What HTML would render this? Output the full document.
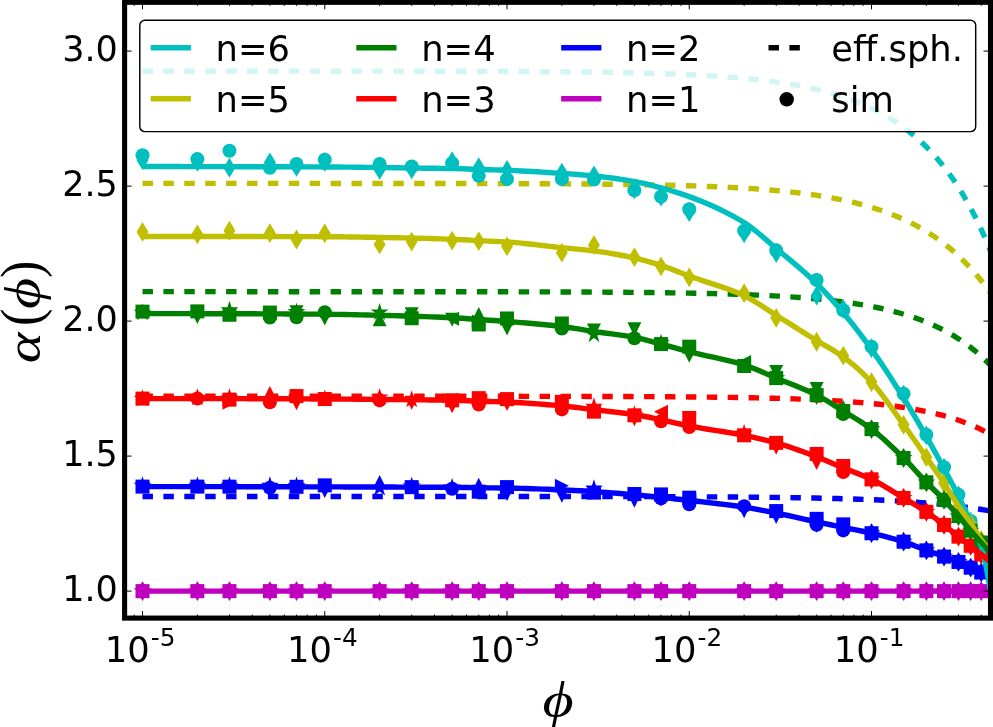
<!DOCTYPE html>
<html><head><meta charset="utf-8"><title>alpha(phi)</title>
<style>html,body{margin:0;padding:0;background:#fff}svg{display:block}</style></head>
<body>
<svg width="993" height="727" viewBox="0 0 993 727" style="display:block">
<rect x="0" y="0" width="993" height="727" fill="#fff"/>
<defs><clipPath id="ax"><rect x="124.6" y="2.3" width="865.9" height="615.8000000000001"/></clipPath></defs>
<g clip-path="url(#ax)">
<polyline points="142.50,496.47 147.80,496.47 153.10,496.47 158.40,496.47 163.70,496.47 169.00,496.47 174.30,496.47 179.60,496.47 184.90,496.47 190.20,496.47 195.50,496.47 200.80,496.47 206.10,496.47 211.40,496.47 216.70,496.47 222.00,496.47 227.30,496.47 232.61,496.47 237.91,496.47 243.21,496.47 248.51,496.47 253.81,496.47 259.11,496.47 264.41,496.47 269.71,496.47 275.01,496.47 280.31,496.47 285.61,496.47 290.91,496.47 296.21,496.47 301.51,496.47 306.81,496.47 312.11,496.47 317.41,496.47 322.71,496.47 328.01,496.47 333.31,496.47 338.61,496.47 343.91,496.47 349.21,496.47 354.51,496.47 359.81,496.47 365.11,496.47 370.41,496.47 375.71,496.47 381.01,496.47 386.31,496.47 391.61,496.47 396.91,496.47 402.21,496.47 407.51,496.47 412.82,496.47 418.12,496.48 423.42,496.48 428.72,496.48 434.02,496.48 439.32,496.48 444.62,496.48 449.92,496.48 455.22,496.48 460.52,496.48 465.82,496.48 471.12,496.49 476.42,496.49 481.72,496.49 487.02,496.49 492.32,496.49 497.62,496.49 502.92,496.50 508.22,496.50 513.52,496.50 518.82,496.50 524.12,496.51 529.42,496.51 534.72,496.51 540.02,496.51 545.32,496.52 550.62,496.52 555.92,496.53 561.22,496.53 566.52,496.53 571.82,496.54 577.12,496.54 582.42,496.55 587.73,496.55 593.03,496.56 598.33,496.57 603.63,496.57 608.93,496.58 614.23,496.59 619.53,496.60 624.83,496.61 630.13,496.62 635.43,496.63 640.73,496.64 646.03,496.65 651.33,496.67 656.63,496.68 661.93,496.69 667.23,496.71 672.53,496.73 677.83,496.75 683.13,496.76 688.43,496.79 693.73,496.81 699.03,496.83 704.33,496.86 709.63,496.88 714.93,496.91 720.23,496.94 725.53,496.98 730.83,497.01 736.13,497.05 741.43,497.09 746.73,497.13 752.03,497.18 757.33,497.23 762.64,497.28 767.94,497.34 773.24,497.40 778.54,497.47 783.84,497.54 789.14,497.61 794.44,497.69 799.74,497.77 805.04,497.86 810.34,497.96 815.64,498.06 820.94,498.18 826.24,498.29 831.54,498.42 836.84,498.56 842.14,498.70 847.44,498.86 852.74,499.02 858.04,499.20 863.34,499.39 868.64,499.59 873.94,499.81 879.24,500.04 884.54,500.29 889.84,500.55 895.14,500.83 900.44,501.14 905.74,501.46 911.04,501.80 916.34,502.17 921.64,502.57 926.94,502.99 932.24,503.44 937.54,503.93 942.85,504.45 948.15,505.00 953.45,505.59 958.75,506.22 964.05,506.90 969.35,507.62 974.65,508.39 979.95,509.22 985.25,510.10 990.55,511.05" fill="none" stroke="#0000ff" stroke-width="5.4" stroke-dasharray="10.45 10.45"/>
<polyline points="142.50,396.24 147.80,396.24 153.10,396.24 158.40,396.24 163.70,396.24 169.00,396.24 174.30,396.24 179.60,396.24 184.90,396.24 190.20,396.24 195.50,396.24 200.80,396.24 206.10,396.24 211.40,396.24 216.70,396.24 222.00,396.24 227.30,396.24 232.61,396.24 237.91,396.24 243.21,396.24 248.51,396.24 253.81,396.24 259.11,396.24 264.41,396.24 269.71,396.24 275.01,396.24 280.31,396.24 285.61,396.25 290.91,396.25 296.21,396.25 301.51,396.25 306.81,396.25 312.11,396.25 317.41,396.25 322.71,396.25 328.01,396.25 333.31,396.25 338.61,396.25 343.91,396.25 349.21,396.25 354.51,396.25 359.81,396.25 365.11,396.25 370.41,396.25 375.71,396.25 381.01,396.26 386.31,396.26 391.61,396.26 396.91,396.26 402.21,396.26 407.51,396.26 412.82,396.26 418.12,396.26 423.42,396.27 428.72,396.27 434.02,396.27 439.32,396.27 444.62,396.27 449.92,396.27 455.22,396.28 460.52,396.28 465.82,396.28 471.12,396.29 476.42,396.29 481.72,396.29 487.02,396.29 492.32,396.30 497.62,396.30 502.92,396.31 508.22,396.31 513.52,396.32 518.82,396.32 524.12,396.33 529.42,396.33 534.72,396.34 540.02,396.35 545.32,396.35 550.62,396.36 555.92,396.37 561.22,396.38 566.52,396.39 571.82,396.40 577.12,396.41 582.42,396.42 587.73,396.43 593.03,396.45 598.33,396.46 603.63,396.48 608.93,396.49 614.23,396.51 619.53,396.53 624.83,396.55 630.13,396.57 635.43,396.59 640.73,396.62 646.03,396.64 651.33,396.67 656.63,396.70 661.93,396.73 667.23,396.77 672.53,396.81 677.83,396.84 683.13,396.89 688.43,396.93 693.73,396.98 699.03,397.03 704.33,397.09 709.63,397.14 714.93,397.21 720.23,397.27 725.53,397.35 730.83,397.42 736.13,397.51 741.43,397.60 746.73,397.69 752.03,397.79 757.33,397.90 762.64,398.02 767.94,398.14 773.24,398.27 778.54,398.42 783.84,398.57 789.14,398.74 794.44,398.91 799.74,399.10 805.04,399.30 810.34,399.52 815.64,399.75 820.94,400.00 826.24,400.27 831.54,400.56 836.84,400.86 842.14,401.19 847.44,401.55 852.74,401.93 858.04,402.34 863.34,402.78 868.64,403.26 873.94,403.76 879.24,404.31 884.54,404.90 889.84,405.54 895.14,406.22 900.44,406.96 905.74,407.76 911.04,408.62 916.34,409.54 921.64,410.54 926.94,411.62 932.24,412.79 937.54,414.06 942.85,415.43 948.15,416.91 953.45,418.52 958.75,420.27 964.05,422.16 969.35,424.22 974.65,426.47 979.95,428.91 985.25,431.57 990.55,434.46" fill="none" stroke="#ff0000" stroke-width="5.4" stroke-dasharray="10.45 10.45"/>
<polyline points="142.50,291.67 147.80,291.67 153.10,291.67 158.40,291.67 163.70,291.67 169.00,291.67 174.30,291.67 179.60,291.67 184.90,291.67 190.20,291.67 195.50,291.67 200.80,291.67 206.10,291.67 211.40,291.67 216.70,291.67 222.00,291.67 227.30,291.67 232.61,291.67 237.91,291.67 243.21,291.68 248.51,291.68 253.81,291.68 259.11,291.68 264.41,291.68 269.71,291.68 275.01,291.68 280.31,291.68 285.61,291.68 290.91,291.68 296.21,291.68 301.51,291.68 306.81,291.68 312.11,291.68 317.41,291.68 322.71,291.68 328.01,291.68 333.31,291.69 338.61,291.69 343.91,291.69 349.21,291.69 354.51,291.69 359.81,291.69 365.11,291.69 370.41,291.70 375.71,291.70 381.01,291.70 386.31,291.70 391.61,291.70 396.91,291.71 402.21,291.71 407.51,291.71 412.82,291.71 418.12,291.72 423.42,291.72 428.72,291.72 434.02,291.73 439.32,291.73 444.62,291.74 449.92,291.74 455.22,291.74 460.52,291.75 465.82,291.76 471.12,291.76 476.42,291.77 481.72,291.77 487.02,291.78 492.32,291.79 497.62,291.80 502.92,291.81 508.22,291.82 513.52,291.83 518.82,291.84 524.12,291.85 529.42,291.86 534.72,291.87 540.02,291.89 545.32,291.90 550.62,291.92 555.92,291.94 561.22,291.95 566.52,291.97 571.82,291.99 577.12,292.02 582.42,292.04 587.73,292.07 593.03,292.09 598.33,292.12 603.63,292.16 608.93,292.19 614.23,292.23 619.53,292.26 624.83,292.30 630.13,292.35 635.43,292.40 640.73,292.45 646.03,292.50 651.33,292.56 656.63,292.62 661.93,292.69 667.23,292.76 672.53,292.83 677.83,292.91 683.13,293.00 688.43,293.09 693.73,293.19 699.03,293.30 704.33,293.41 709.63,293.53 714.93,293.66 720.23,293.80 725.53,293.94 730.83,294.10 736.13,294.27 741.43,294.45 746.73,294.65 752.03,294.86 757.33,295.08 762.64,295.32 767.94,295.57 773.24,295.84 778.54,296.14 783.84,296.45 789.14,296.78 794.44,297.14 799.74,297.52 805.04,297.94 810.34,298.38 815.64,298.85 820.94,299.35 826.24,299.89 831.54,300.47 836.84,301.10 842.14,301.76 847.44,302.48 852.74,303.25 858.04,304.07 863.34,304.95 868.64,305.90 873.94,306.92 879.24,308.01 884.54,309.18 889.84,310.44 895.14,311.80 900.44,313.25 905.74,314.82 911.04,316.50 916.34,318.31 921.64,320.26 926.94,322.36 932.24,324.63 937.54,327.07 942.85,329.70 948.15,332.54 953.45,335.61 958.75,338.92 964.05,342.50 969.35,346.37 974.65,350.56 979.95,355.10 985.25,360.02 990.55,365.36" fill="none" stroke="#008000" stroke-width="5.4" stroke-dasharray="10.45 10.45"/>
<polyline points="142.50,183.40 147.80,183.40 153.10,183.40 158.40,183.40 163.70,183.40 169.00,183.40 174.30,183.40 179.60,183.40 184.90,183.40 190.20,183.40 195.50,183.40 200.80,183.40 206.10,183.41 211.40,183.41 216.70,183.41 222.00,183.41 227.30,183.41 232.61,183.41 237.91,183.41 243.21,183.41 248.51,183.41 253.81,183.41 259.11,183.41 264.41,183.41 269.71,183.41 275.01,183.41 280.31,183.41 285.61,183.41 290.91,183.42 296.21,183.42 301.51,183.42 306.81,183.42 312.11,183.42 317.41,183.42 322.71,183.42 328.01,183.42 333.31,183.43 338.61,183.43 343.91,183.43 349.21,183.43 354.51,183.43 359.81,183.44 365.11,183.44 370.41,183.44 375.71,183.45 381.01,183.45 386.31,183.45 391.61,183.46 396.91,183.46 402.21,183.46 407.51,183.47 412.82,183.47 418.12,183.48 423.42,183.48 428.72,183.49 434.02,183.49 439.32,183.50 444.62,183.51 449.92,183.52 455.22,183.52 460.52,183.53 465.82,183.54 471.12,183.55 476.42,183.56 481.72,183.57 487.02,183.58 492.32,183.60 497.62,183.61 502.92,183.63 508.22,183.64 513.52,183.66 518.82,183.68 524.12,183.70 529.42,183.72 534.72,183.74 540.02,183.76 545.32,183.79 550.62,183.81 555.92,183.84 561.22,183.87 566.52,183.90 571.82,183.94 577.12,183.98 582.42,184.02 587.73,184.06 593.03,184.10 598.33,184.15 603.63,184.21 608.93,184.26 614.23,184.32 619.53,184.38 624.83,184.45 630.13,184.53 635.43,184.60 640.73,184.69 646.03,184.78 651.33,184.87 656.63,184.97 661.93,185.08 667.23,185.20 672.53,185.32 677.83,185.46 683.13,185.60 688.43,185.75 693.73,185.92 699.03,186.09 704.33,186.28 709.63,186.48 714.93,186.69 720.23,186.92 725.53,187.16 730.83,187.42 736.13,187.70 741.43,188.00 746.73,188.32 752.03,188.66 757.33,189.02 762.64,189.41 767.94,189.83 773.24,190.28 778.54,190.75 783.84,191.26 789.14,191.81 794.44,192.39 799.74,193.02 805.04,193.69 810.34,194.40 815.64,195.16 820.94,195.98 826.24,196.86 831.54,197.79 836.84,198.79 842.14,199.86 847.44,201.01 852.74,202.23 858.04,203.54 863.34,204.94 868.64,206.44 873.94,208.05 879.24,209.77 884.54,211.60 889.84,213.57 895.14,215.68 900.44,217.93 905.74,220.34 911.04,222.92 916.34,225.69 921.64,228.65 926.94,231.82 932.24,235.21 937.54,238.85 942.85,242.74 948.15,246.91 953.45,251.38 958.75,256.17 964.05,261.30 969.35,266.80 974.65,272.69 979.95,279.01 985.25,285.79 990.55,293.05" fill="none" stroke="#bfbf00" stroke-width="5.4" stroke-dasharray="10.45 10.45"/>
<polyline points="142.50,71.08 147.80,71.08 153.10,71.08 158.40,71.08 163.70,71.08 169.00,71.09 174.30,71.09 179.60,71.09 184.90,71.09 190.20,71.09 195.50,71.09 200.80,71.09 206.10,71.09 211.40,71.09 216.70,71.09 222.00,71.09 227.30,71.09 232.61,71.09 237.91,71.09 243.21,71.09 248.51,71.09 253.81,71.09 259.11,71.10 264.41,71.10 269.71,71.10 275.01,71.10 280.31,71.10 285.61,71.10 290.91,71.10 296.21,71.11 301.51,71.11 306.81,71.11 312.11,71.11 317.41,71.11 322.71,71.12 328.01,71.12 333.31,71.12 338.61,71.12 343.91,71.13 349.21,71.13 354.51,71.13 359.81,71.14 365.11,71.14 370.41,71.14 375.71,71.15 381.01,71.15 386.31,71.16 391.61,71.16 396.91,71.17 402.21,71.18 407.51,71.18 412.82,71.19 418.12,71.20 423.42,71.21 428.72,71.21 434.02,71.22 439.32,71.23 444.62,71.24 449.92,71.26 455.22,71.27 460.52,71.28 465.82,71.30 471.12,71.31 476.42,71.33 481.72,71.34 487.02,71.36 492.32,71.38 497.62,71.40 502.92,71.42 508.22,71.45 513.52,71.47 518.82,71.50 524.12,71.53 529.42,71.56 534.72,71.59 540.02,71.63 545.32,71.67 550.62,71.71 555.92,71.75 561.22,71.80 566.52,71.85 571.82,71.90 577.12,71.96 582.42,72.02 587.73,72.09 593.03,72.16 598.33,72.23 603.63,72.31 608.93,72.40 614.23,72.49 619.53,72.58 624.83,72.69 630.13,72.80 635.43,72.92 640.73,73.05 646.03,73.18 651.33,73.33 656.63,73.48 661.93,73.65 667.23,73.83 672.53,74.02 677.83,74.23 683.13,74.44 688.43,74.68 693.73,74.93 699.03,75.19 704.33,75.48 709.63,75.78 714.93,76.11 720.23,76.46 725.53,76.84 730.83,77.24 736.13,77.66 741.43,78.12 746.73,78.61 752.03,79.14 757.33,79.70 762.64,80.30 767.94,80.94 773.24,81.63 778.54,82.36 783.84,83.15 789.14,83.99 794.44,84.89 799.74,85.86 805.04,86.89 810.34,88.00 815.64,89.18 820.94,90.45 826.24,91.81 831.54,93.27 836.84,94.83 842.14,96.50 847.44,98.28 852.74,100.20 858.04,102.26 863.34,104.46 868.64,106.82 873.94,109.35 879.24,112.07 884.54,114.98 889.84,118.11 895.14,121.46 900.44,125.06 905.74,128.93 911.04,133.08 916.34,137.54 921.64,142.33 926.94,147.48 932.24,153.02 937.54,158.98 942.85,165.39 948.15,172.29 953.45,179.72 958.75,187.73 964.05,196.36 969.35,205.67 974.65,215.71 979.95,226.56 985.25,238.27 990.55,250.93" fill="none" stroke="#00bfbf" stroke-width="5.4" stroke-dasharray="10.45 10.45"/>
<rect x="135.50" y="584.10" width="14.00" height="14.00" fill="#bf00bf"/><polygon points="142.50,581.20 148.44,591.10 142.50,601.00 136.56,591.10" fill="#bf00bf"/><polygon points="142.50,581.70 144.61,588.20 151.44,588.20 145.91,592.21 148.03,598.70 142.50,594.69 136.97,598.70 139.09,592.21 133.56,588.20 140.39,588.20" fill="#bf00bf"/><rect x="190.36" y="584.10" width="14.00" height="14.00" fill="#bf00bf"/><polygon points="197.36,581.20 203.30,591.10 197.36,601.00 191.42,591.10" fill="#bf00bf"/><polygon points="197.36,581.70 199.47,588.20 206.30,588.20 200.78,592.21 202.89,598.70 197.36,594.69 191.84,598.70 193.95,592.21 188.42,588.20 195.25,588.20" fill="#bf00bf"/><rect x="222.46" y="584.10" width="14.00" height="14.00" fill="#bf00bf"/><polygon points="229.46,581.20 235.39,591.10 229.46,601.00 223.52,591.10" fill="#bf00bf"/><polygon points="229.46,581.70 231.57,588.20 238.40,588.20 232.87,592.21 234.98,598.70 229.46,594.69 223.93,598.70 226.04,592.21 220.52,588.20 227.34,588.20" fill="#bf00bf"/><rect x="262.89" y="584.10" width="14.00" height="14.00" fill="#bf00bf"/><polygon points="269.89,581.20 275.83,591.10 269.89,601.00 263.95,591.10" fill="#bf00bf"/><polygon points="269.89,581.70 272.00,588.20 278.83,588.20 273.30,592.21 275.41,598.70 269.89,594.69 264.36,598.70 266.47,592.21 260.95,588.20 267.78,588.20" fill="#bf00bf"/><rect x="289.52" y="584.10" width="14.00" height="14.00" fill="#bf00bf"/><polygon points="296.52,581.20 302.46,591.10 296.52,601.00 290.58,591.10" fill="#bf00bf"/><polygon points="296.52,581.70 298.63,588.20 305.46,588.20 299.93,592.21 302.04,598.70 296.52,594.69 290.99,598.70 293.10,592.21 287.58,588.20 294.41,588.20" fill="#bf00bf"/><rect x="317.75" y="584.10" width="14.00" height="14.00" fill="#bf00bf"/><polygon points="324.75,581.20 330.69,591.10 324.75,601.00 318.81,591.10" fill="#bf00bf"/><polygon points="324.75,581.70 326.86,588.20 333.69,588.20 328.16,592.21 330.28,598.70 324.75,594.69 319.22,598.70 321.34,592.21 315.81,588.20 322.64,588.20" fill="#bf00bf"/><rect x="372.61" y="584.10" width="14.00" height="14.00" fill="#bf00bf"/><polygon points="379.61,581.20 385.55,591.10 379.61,601.00 373.67,591.10" fill="#bf00bf"/><polygon points="379.61,581.70 381.72,588.20 388.55,588.20 383.03,592.21 385.14,598.70 379.61,594.69 374.09,598.70 376.20,592.21 370.67,588.20 377.50,588.20" fill="#bf00bf"/><rect x="404.71" y="584.10" width="14.00" height="14.00" fill="#bf00bf"/><polygon points="411.71,581.20 417.64,591.10 411.71,601.00 405.77,591.10" fill="#bf00bf"/><polygon points="411.71,581.70 413.82,588.20 420.65,588.20 415.12,592.21 417.23,598.70 411.71,594.69 406.18,598.70 408.29,592.21 402.77,588.20 409.59,588.20" fill="#bf00bf"/><rect x="445.14" y="584.10" width="14.00" height="14.00" fill="#bf00bf"/><polygon points="452.14,581.20 458.08,591.10 452.14,601.00 446.20,591.10" fill="#bf00bf"/><polygon points="452.14,581.70 454.25,588.20 461.08,588.20 455.55,592.21 457.66,598.70 452.14,594.69 446.61,598.70 448.72,592.21 443.20,588.20 450.03,588.20" fill="#bf00bf"/><rect x="471.77" y="584.10" width="14.00" height="14.00" fill="#bf00bf"/><polygon points="478.77,581.20 484.71,591.10 478.77,601.00 472.83,591.10" fill="#bf00bf"/><polygon points="478.77,581.70 480.88,588.20 487.71,588.20 482.18,592.21 484.29,598.70 478.77,594.69 473.24,598.70 475.35,592.21 469.83,588.20 476.66,588.20" fill="#bf00bf"/><rect x="500.00" y="584.10" width="14.00" height="14.00" fill="#bf00bf"/><polygon points="507.00,581.20 512.94,591.10 507.00,601.00 501.06,591.10" fill="#bf00bf"/><polygon points="507.00,581.70 509.11,588.20 515.94,588.20 510.41,592.21 512.53,598.70 507.00,594.69 501.47,598.70 503.59,592.21 498.06,588.20 504.89,588.20" fill="#bf00bf"/><rect x="554.86" y="584.10" width="14.00" height="14.00" fill="#bf00bf"/><polygon points="561.86,581.20 567.80,591.10 561.86,601.00 555.92,591.10" fill="#bf00bf"/><polygon points="561.86,581.70 563.97,588.20 570.80,588.20 565.28,592.21 567.39,598.70 561.86,594.69 556.34,598.70 558.45,592.21 552.92,588.20 559.75,588.20" fill="#bf00bf"/><rect x="586.96" y="584.10" width="14.00" height="14.00" fill="#bf00bf"/><polygon points="593.96,581.20 599.89,591.10 593.96,601.00 588.02,591.10" fill="#bf00bf"/><polygon points="593.96,581.70 596.07,588.20 602.90,588.20 597.37,592.21 599.48,598.70 593.96,594.69 588.43,598.70 590.54,592.21 585.02,588.20 591.84,588.20" fill="#bf00bf"/><rect x="627.39" y="584.10" width="14.00" height="14.00" fill="#bf00bf"/><polygon points="634.39,581.20 640.33,591.10 634.39,601.00 628.45,591.10" fill="#bf00bf"/><polygon points="634.39,581.70 636.50,588.20 643.33,588.20 637.80,592.21 639.91,598.70 634.39,594.69 628.86,598.70 630.97,592.21 625.45,588.20 632.28,588.20" fill="#bf00bf"/><rect x="654.02" y="584.10" width="14.00" height="14.00" fill="#bf00bf"/><polygon points="661.02,581.20 666.96,591.10 661.02,601.00 655.08,591.10" fill="#bf00bf"/><polygon points="661.02,581.70 663.13,588.20 669.96,588.20 664.43,592.21 666.54,598.70 661.02,594.69 655.49,598.70 657.60,592.21 652.08,588.20 658.91,588.20" fill="#bf00bf"/><rect x="682.25" y="584.10" width="14.00" height="14.00" fill="#bf00bf"/><polygon points="689.25,581.20 695.19,591.10 689.25,601.00 683.31,591.10" fill="#bf00bf"/><polygon points="689.25,581.70 691.36,588.20 698.19,588.20 692.66,592.21 694.78,598.70 689.25,594.69 683.72,598.70 685.84,592.21 680.31,588.20 687.14,588.20" fill="#bf00bf"/><rect x="737.11" y="584.10" width="14.00" height="14.00" fill="#bf00bf"/><polygon points="744.11,581.20 750.05,591.10 744.11,601.00 738.17,591.10" fill="#bf00bf"/><polygon points="744.11,581.70 746.22,588.20 753.05,588.20 747.53,592.21 749.64,598.70 744.11,594.69 738.59,598.70 740.70,592.21 735.17,588.20 742.00,588.20" fill="#bf00bf"/><rect x="769.21" y="584.10" width="14.00" height="14.00" fill="#bf00bf"/><polygon points="776.21,581.20 782.14,591.10 776.21,601.00 770.27,591.10" fill="#bf00bf"/><polygon points="776.21,581.70 778.32,588.20 785.15,588.20 779.62,592.21 781.73,598.70 776.21,594.69 770.68,598.70 772.79,592.21 767.27,588.20 774.09,588.20" fill="#bf00bf"/><rect x="809.64" y="584.10" width="14.00" height="14.00" fill="#bf00bf"/><polygon points="816.64,581.20 822.58,591.10 816.64,601.00 810.70,591.10" fill="#bf00bf"/><polygon points="816.64,581.70 818.75,588.20 825.58,588.20 820.05,592.21 822.16,598.70 816.64,594.69 811.11,598.70 813.22,592.21 807.70,588.20 814.53,588.20" fill="#bf00bf"/><rect x="836.27" y="584.10" width="14.00" height="14.00" fill="#bf00bf"/><polygon points="843.27,581.20 849.21,591.10 843.27,601.00 837.33,591.10" fill="#bf00bf"/><polygon points="843.27,581.70 845.38,588.20 852.21,588.20 846.68,592.21 848.79,598.70 843.27,594.69 837.74,598.70 839.85,592.21 834.33,588.20 841.16,588.20" fill="#bf00bf"/><rect x="864.50" y="584.10" width="14.00" height="14.00" fill="#bf00bf"/><polygon points="871.50,581.20 877.44,591.10 871.50,601.00 865.56,591.10" fill="#bf00bf"/><polygon points="871.50,581.70 873.61,588.20 880.44,588.20 874.91,592.21 877.03,598.70 871.50,594.69 865.97,598.70 868.09,592.21 862.56,588.20 869.39,588.20" fill="#bf00bf"/><rect x="896.59" y="584.10" width="14.00" height="14.00" fill="#bf00bf"/><polygon points="903.59,581.20 909.53,591.10 903.59,601.00 897.65,591.10" fill="#bf00bf"/><polygon points="903.59,581.70 905.70,588.20 912.53,588.20 907.01,592.21 909.12,598.70 903.59,594.69 898.07,598.70 900.18,592.21 894.65,588.20 901.48,588.20" fill="#bf00bf"/><rect x="919.36" y="584.10" width="14.00" height="14.00" fill="#bf00bf"/><polygon points="926.36,581.20 932.30,591.10 926.36,601.00 920.42,591.10" fill="#bf00bf"/><polygon points="926.36,581.70 928.47,588.20 935.30,588.20 929.78,592.21 931.89,598.70 926.36,594.69 920.84,598.70 922.95,592.21 917.42,588.20 924.25,588.20" fill="#bf00bf"/><rect x="937.02" y="584.10" width="14.00" height="14.00" fill="#bf00bf"/><polygon points="944.02,581.20 949.96,591.10 944.02,601.00 938.08,591.10" fill="#bf00bf"/><polygon points="944.02,581.70 946.13,588.20 952.96,588.20 947.44,592.21 949.55,598.70 944.02,594.69 938.50,598.70 940.61,592.21 935.08,588.20 941.91,588.20" fill="#bf00bf"/><rect x="951.46" y="584.10" width="14.00" height="14.00" fill="#bf00bf"/><polygon points="958.46,581.20 964.39,591.10 958.46,601.00 952.52,591.10" fill="#bf00bf"/><polygon points="958.46,581.70 960.57,588.20 967.40,588.20 961.87,592.21 963.98,598.70 958.46,594.69 952.93,598.70 955.04,592.21 949.52,588.20 956.34,588.20" fill="#bf00bf"/><rect x="963.66" y="584.10" width="14.00" height="14.00" fill="#bf00bf"/><polygon points="970.66,581.20 976.60,591.10 970.66,601.00 964.72,591.10" fill="#bf00bf"/><polygon points="970.66,581.70 972.77,588.20 979.60,588.20 974.07,592.21 976.18,598.70 970.66,594.69 965.13,598.70 967.24,592.21 961.72,588.20 968.55,588.20" fill="#bf00bf"/><rect x="974.23" y="584.10" width="14.00" height="14.00" fill="#bf00bf"/><polygon points="981.23,581.20 987.17,591.10 981.23,601.00 975.29,591.10" fill="#bf00bf"/><polygon points="981.23,581.70 983.34,588.20 990.17,588.20 984.64,592.21 986.75,598.70 981.23,594.69 975.70,598.70 977.81,592.21 972.29,588.20 979.12,588.20" fill="#bf00bf"/>
<rect x="135.50" y="479.61" width="14.00" height="14.00" fill="#0000ff"/><polygon points="142.50,476.21 144.61,482.71 151.44,482.71 145.91,486.72 148.03,493.21 142.50,489.20 136.97,493.21 139.09,486.72 133.56,482.71 140.39,482.71" fill="#0000ff"/><polygon points="197.36,476.21 199.47,482.71 206.30,482.71 200.78,486.72 202.89,493.21 197.36,489.20 191.84,493.21 193.95,486.72 188.42,482.71 195.25,482.71" fill="#0000ff"/><rect x="190.36" y="479.61" width="14.00" height="14.00" fill="#0000ff"/><rect x="222.46" y="479.66" width="14.00" height="14.00" fill="#0000ff"/><polygon points="229.46,476.26 231.57,482.76 238.40,482.76 232.87,486.77 234.98,493.27 229.46,489.25 223.93,493.27 226.04,486.77 220.52,482.76 227.34,482.76" fill="#0000ff"/><polygon points="269.89,476.32 272.00,482.81 278.83,482.81 273.30,486.83 275.41,493.32 269.89,489.31 264.36,493.32 266.47,486.83 260.95,482.81 267.78,482.81" fill="#0000ff"/><circle cx="269.89" cy="487.72" r="7.00" fill="#0000ff"/><polygon points="296.52,476.40 298.63,482.89 305.46,482.89 299.93,486.91 302.04,493.40 296.52,489.39 290.99,493.40 293.10,486.91 287.58,482.89 294.41,482.89" fill="#0000ff"/><rect x="289.52" y="479.80" width="14.00" height="14.00" fill="#0000ff"/><rect x="317.75" y="478.38" width="14.00" height="14.00" fill="#0000ff"/><polygon points="317.75,483.88 331.75,483.88 324.75,497.88" fill="#0000ff"/><polygon points="372.61,489.02 386.61,489.02 379.61,475.02" fill="#0000ff"/><polygon points="379.61,478.62 381.72,485.11 388.55,485.11 383.03,489.12 385.14,495.62 379.61,491.61 374.09,495.62 376.20,489.12 370.67,485.11 377.50,485.11" fill="#0000ff"/><rect x="404.71" y="480.15" width="14.00" height="14.00" fill="#0000ff"/><polygon points="411.71,476.75 413.82,483.25 420.65,483.25 415.12,487.26 417.23,493.75 411.71,489.74 406.18,493.75 408.29,487.26 402.77,483.25 409.59,483.25" fill="#0000ff"/><polygon points="452.14,477.91 454.25,484.41 461.08,484.41 455.55,488.42 457.66,494.92 452.14,490.90 446.61,494.92 448.72,488.42 443.20,484.41 450.03,484.41" fill="#0000ff"/><circle cx="452.14" cy="488.81" r="7.00" fill="#0000ff"/><polygon points="471.77,491.69 485.77,491.69 478.77,477.69" fill="#0000ff"/><rect x="471.77" y="484.69" width="14.00" height="14.00" fill="#0000ff"/><rect x="500.00" y="480.10" width="14.00" height="14.00" fill="#0000ff"/><polygon points="500.00,487.10 514.00,487.10 507.00,501.10" fill="#0000ff"/><polygon points="554.86,478.85 554.86,492.85 568.86,485.85" fill="#0000ff"/><polygon points="554.86,488.85 568.86,488.85 561.86,502.85" fill="#0000ff"/><polygon points="593.96,479.21 596.07,485.70 602.90,485.70 597.37,489.71 599.48,496.21 593.96,492.20 588.43,496.21 590.54,489.71 585.02,485.70 591.84,485.70" fill="#0000ff"/><rect x="586.96" y="485.61" width="14.00" height="14.00" fill="#0000ff"/><rect x="627.39" y="487.01" width="14.00" height="14.00" fill="#0000ff"/><polygon points="627.39,493.71 641.39,493.71 634.39,507.71" fill="#0000ff"/><rect x="654.02" y="487.41" width="14.00" height="14.00" fill="#0000ff"/><polygon points="654.02,492.41 668.02,492.41 661.02,506.41" fill="#0000ff"/><circle cx="661.02" cy="498.41" r="7.00" fill="#0000ff"/><rect x="682.25" y="490.68" width="14.00" height="14.00" fill="#0000ff"/><circle cx="689.25" cy="504.18" r="7.00" fill="#0000ff"/><circle cx="744.11" cy="506.13" r="7.00" fill="#0000ff"/><polygon points="737.11,504.13 751.11,504.13 744.11,518.13" fill="#0000ff"/><rect x="769.21" y="504.07" width="14.00" height="14.00" fill="#0000ff"/><polygon points="769.21,510.07 783.21,510.07 776.21,524.07" fill="#0000ff"/><rect x="809.64" y="511.85" width="14.00" height="14.00" fill="#0000ff"/><polygon points="809.64,518.85 823.64,518.85 816.64,532.85" fill="#0000ff"/><circle cx="816.64" cy="524.85" r="7.00" fill="#0000ff"/><rect x="836.27" y="517.38" width="14.00" height="14.00" fill="#0000ff"/><circle cx="843.27" cy="530.38" r="7.00" fill="#0000ff"/><rect x="864.50" y="526.21" width="14.00" height="14.00" fill="#0000ff"/><polygon points="871.50,523.81 873.61,530.31 880.44,530.31 874.91,534.32 877.03,540.82 871.50,536.80 865.97,540.82 868.09,534.32 862.56,530.31 869.39,530.31" fill="#0000ff"/><polygon points="871.50,523.31 877.44,533.21 871.50,543.11 865.56,533.21" fill="#0000ff"/><rect x="896.59" y="534.69" width="14.00" height="14.00" fill="#0000ff"/><polygon points="903.59,532.29 905.70,538.79 912.53,538.79 907.01,542.80 909.12,549.29 903.59,545.28 898.07,549.29 900.18,542.80 894.65,538.79 901.48,538.79" fill="#0000ff"/><polygon points="903.59,531.79 909.53,541.69 903.59,551.59 897.65,541.69" fill="#0000ff"/><rect x="919.36" y="543.33" width="14.00" height="14.00" fill="#0000ff"/><polygon points="926.36,540.93 928.47,547.43 935.30,547.43 929.78,551.44 931.89,557.93 926.36,553.92 920.84,557.93 922.95,551.44 917.42,547.43 924.25,547.43" fill="#0000ff"/><polygon points="926.36,540.43 932.30,550.33 926.36,560.23 920.42,550.33" fill="#0000ff"/><rect x="937.02" y="549.54" width="14.00" height="14.00" fill="#0000ff"/><polygon points="944.02,547.14 946.13,553.64 952.96,553.64 947.44,557.65 949.55,564.14 944.02,560.13 938.50,564.14 940.61,557.65 935.08,553.64 941.91,553.64" fill="#0000ff"/><polygon points="944.02,546.64 949.96,556.54 944.02,566.44 938.08,556.54" fill="#0000ff"/><rect x="951.46" y="554.94" width="14.00" height="14.00" fill="#0000ff"/><polygon points="958.46,552.54 960.57,559.04 967.40,559.04 961.87,563.05 963.98,569.54 958.46,565.53 952.93,569.54 955.04,563.05 949.52,559.04 956.34,559.04" fill="#0000ff"/><polygon points="958.46,552.04 964.39,561.94 958.46,571.84 952.52,561.94" fill="#0000ff"/><rect x="963.66" y="560.61" width="14.00" height="14.00" fill="#0000ff"/><polygon points="970.66,558.21 972.77,564.71 979.60,564.71 974.07,568.72 976.18,575.21 970.66,571.20 965.13,575.21 967.24,568.72 961.72,564.71 968.55,564.71" fill="#0000ff"/><polygon points="970.66,557.71 976.60,567.61 970.66,577.51 964.72,567.61" fill="#0000ff"/><rect x="974.23" y="565.47" width="14.00" height="14.00" fill="#0000ff"/><polygon points="981.23,563.07 983.34,569.57 990.17,569.57 984.64,573.58 986.75,580.07 981.23,576.06 975.70,580.07 977.81,573.58 972.29,569.57 979.12,569.57" fill="#0000ff"/><polygon points="981.23,562.57 987.17,572.47 981.23,582.37 975.29,572.47" fill="#0000ff"/>
<circle cx="142.50" cy="155.32" r="7.00" fill="#00bfbf"/><polygon points="142.50,150.28 148.44,160.18 142.50,170.08 136.56,160.18" fill="#00bfbf"/><circle cx="197.36" cy="159.10" r="7.00" fill="#00bfbf"/><polygon points="197.36,151.90 203.30,161.80 197.36,171.70 191.42,161.80" fill="#00bfbf"/><circle cx="229.46" cy="150.73" r="7.00" fill="#00bfbf"/><polygon points="229.46,157.84 235.39,167.74 229.46,177.64 223.52,167.74" fill="#00bfbf"/><circle cx="269.89" cy="167.74" r="7.00" fill="#00bfbf"/><polygon points="269.89,152.44 275.83,162.34 269.89,172.24 263.95,162.34" fill="#00bfbf"/><circle cx="296.52" cy="163.96" r="7.00" fill="#00bfbf"/><polygon points="296.52,157.03 302.46,166.93 296.52,176.83 290.58,166.93" fill="#00bfbf"/><circle cx="324.75" cy="159.64" r="7.00" fill="#00bfbf"/><polygon points="324.75,151.90 330.69,161.80 324.75,171.70 318.81,161.80" fill="#00bfbf"/><circle cx="379.61" cy="163.96" r="7.00" fill="#00bfbf"/><polygon points="379.61,160.00 385.55,169.90 379.61,179.80 373.67,169.90" fill="#00bfbf"/><circle cx="411.71" cy="166.50" r="7.00" fill="#00bfbf"/><polygon points="411.71,159.46 417.64,169.36 411.71,179.26 405.77,169.36" fill="#00bfbf"/><circle cx="452.14" cy="163.15" r="7.00" fill="#00bfbf"/><polygon points="452.14,151.36 458.08,161.26 452.14,171.16 446.20,161.26" fill="#00bfbf"/><circle cx="478.77" cy="175.84" r="7.00" fill="#00bfbf"/><polygon points="478.77,157.30 484.71,167.20 478.77,177.10 472.83,167.20" fill="#00bfbf"/><circle cx="507.00" cy="179.08" r="7.00" fill="#00bfbf"/><polygon points="507.00,160.00 512.94,169.90 507.00,179.80 501.06,169.90" fill="#00bfbf"/><circle cx="561.86" cy="179.08" r="7.00" fill="#00bfbf"/><polygon points="561.86,162.70 567.80,172.60 561.86,182.50 555.92,172.60" fill="#00bfbf"/><circle cx="593.96" cy="179.62" r="7.00" fill="#00bfbf"/><polygon points="593.96,165.40 599.89,175.30 593.96,185.20 588.02,175.30" fill="#00bfbf"/><circle cx="634.39" cy="190.42" r="7.00" fill="#00bfbf"/><polygon points="634.39,179.44 640.33,189.34 634.39,199.24 628.45,189.34" fill="#00bfbf"/><circle cx="661.02" cy="196.63" r="7.00" fill="#00bfbf"/><polygon points="661.02,186.73 666.96,196.63 661.02,206.53 655.08,196.63" fill="#00bfbf"/><circle cx="689.25" cy="209.32" r="7.00" fill="#00bfbf"/><polygon points="689.25,202.12 695.19,212.02 689.25,221.92 683.31,212.02" fill="#00bfbf"/><circle cx="744.11" cy="230.65" r="7.00" fill="#00bfbf"/><polygon points="744.11,223.45 750.05,233.35 744.11,243.25 738.17,233.35" fill="#00bfbf"/><circle cx="776.21" cy="250.36" r="7.00" fill="#00bfbf"/><polygon points="776.21,243.16 782.14,253.06 776.21,262.96 770.27,253.06" fill="#00bfbf"/><circle cx="816.64" cy="280.06" r="7.00" fill="#00bfbf"/><polygon points="816.64,285.82 822.58,295.72 816.64,305.62 810.70,295.72" fill="#00bfbf"/><circle cx="843.27" cy="310.30" r="7.00" fill="#00bfbf"/><polygon points="843.27,299.05 849.21,308.95 843.27,318.85 837.33,308.95" fill="#00bfbf"/><circle cx="871.50" cy="346.75" r="7.00" fill="#00bfbf"/><polygon points="871.50,338.20 877.44,348.10 871.50,358.00 865.56,348.10" fill="#00bfbf"/><circle cx="903.59" cy="393.81" r="7.00" fill="#00bfbf"/><polygon points="903.59,384.64 909.53,394.54 903.59,404.44 897.65,394.54" fill="#00bfbf"/><circle cx="926.36" cy="434.77" r="7.00" fill="#00bfbf"/><polygon points="926.36,425.41 932.30,435.31 926.36,445.21 920.42,435.31" fill="#00bfbf"/><circle cx="944.02" cy="467.17" r="7.00" fill="#00bfbf"/><polygon points="944.02,457.81 949.96,467.71 944.02,477.61 938.08,467.71" fill="#00bfbf"/><circle cx="958.46" cy="494.79" r="7.00" fill="#00bfbf"/><polygon points="958.46,485.43 964.39,495.33 958.46,505.23 952.52,495.33" fill="#00bfbf"/><circle cx="970.66" cy="520.90" r="7.00" fill="#00bfbf"/><polygon points="970.66,511.54 976.60,521.44 970.66,531.34 964.72,521.44" fill="#00bfbf"/><circle cx="981.23" cy="544.66" r="7.00" fill="#00bfbf"/><polygon points="981.23,535.30 987.17,545.20 981.23,555.10 975.29,545.20" fill="#00bfbf"/>
<rect x="135.50" y="391.59" width="14.00" height="14.00" fill="#ff0000"/><polygon points="142.50,389.19 144.61,395.69 151.44,395.69 145.91,399.70 148.03,406.19 142.50,402.18 136.97,406.19 139.09,399.70 133.56,395.69 140.39,395.69" fill="#ff0000"/><circle cx="197.36" cy="398.59" r="7.00" fill="#ff0000"/><polygon points="197.36,388.19 199.47,394.69 206.30,394.69 200.78,398.70 202.89,405.19 197.36,401.18 191.84,405.19 193.95,398.70 188.42,394.69 195.25,394.69" fill="#ff0000"/><polygon points="229.46,388.24 231.57,394.74 238.40,394.74 232.87,398.75 234.98,405.25 229.46,401.23 223.93,405.25 226.04,398.75 220.52,394.74 227.34,394.74" fill="#ff0000"/><polygon points="222.46,395.64 222.46,409.64 236.46,402.64" fill="#ff0000"/><rect x="222.46" y="392.64" width="14.00" height="14.00" fill="#ff0000"/><polygon points="262.89,400.12 276.89,400.12 269.89,386.12" fill="#ff0000"/><circle cx="269.89" cy="402.33" r="7.00" fill="#ff0000"/><rect x="289.52" y="389.06" width="14.00" height="14.00" fill="#ff0000"/><polygon points="289.52,396.16 303.52,396.16 296.52,410.16" fill="#ff0000"/><polygon points="324.75,389.60 326.86,396.09 333.69,396.09 328.16,400.10 330.28,406.60 324.75,402.59 319.22,406.60 321.34,400.10 315.81,396.09 322.64,396.09" fill="#ff0000"/><rect x="317.75" y="392.00" width="14.00" height="14.00" fill="#ff0000"/><polygon points="379.61,388.00 381.72,394.50 388.55,394.50 383.03,398.51 385.14,405.00 379.61,400.99 374.09,405.00 376.20,398.51 370.67,394.50 377.50,394.50" fill="#ff0000"/><circle cx="379.61" cy="400.40" r="7.00" fill="#ff0000"/><polygon points="411.71,390.32 413.82,396.82 420.65,396.82 415.12,400.83 417.23,407.33 411.71,403.31 406.18,407.33 408.29,400.83 402.77,396.82 409.59,396.82" fill="#ff0000"/><polygon points="404.71,395.72 418.71,395.72 411.71,409.72" fill="#ff0000"/><rect x="445.14" y="393.29" width="14.00" height="14.00" fill="#ff0000"/><polygon points="445.14,399.29 459.14,399.29 452.14,413.29" fill="#ff0000"/><rect x="471.77" y="391.16" width="14.00" height="14.00" fill="#ff0000"/><circle cx="478.77" cy="404.46" r="7.00" fill="#ff0000"/><rect x="500.00" y="392.10" width="14.00" height="14.00" fill="#ff0000"/><polygon points="500.00,397.10 514.00,397.10 507.00,411.10" fill="#ff0000"/><rect x="554.86" y="394.88" width="14.00" height="14.00" fill="#ff0000"/><circle cx="561.86" cy="409.38" r="7.00" fill="#ff0000"/><polygon points="593.96,397.26 596.07,403.76 602.90,403.76 597.37,407.77 599.48,414.26 593.96,410.25 588.43,414.26 590.54,407.77 585.02,403.76 591.84,403.76" fill="#ff0000"/><rect x="586.96" y="404.66" width="14.00" height="14.00" fill="#ff0000"/><rect x="627.39" y="408.33" width="14.00" height="14.00" fill="#ff0000"/><polygon points="627.39,412.23 641.39,412.23 634.39,426.23" fill="#ff0000"/><polygon points="634.39,405.23 636.50,411.72 643.33,411.72 637.80,415.74 639.91,422.23 634.39,418.22 628.86,422.23 630.97,415.74 625.45,411.72 632.28,411.72" fill="#ff0000"/><polygon points="668.02,404.65 668.02,418.65 654.02,411.65" fill="#ff0000"/><circle cx="661.02" cy="421.25" r="7.00" fill="#ff0000"/><rect x="682.25" y="410.97" width="14.00" height="14.00" fill="#ff0000"/><circle cx="689.25" cy="426.97" r="7.00" fill="#ff0000"/><rect x="737.11" y="428.31" width="14.00" height="14.00" fill="#ff0000"/><polygon points="744.11,423.91 746.22,430.41 753.05,430.41 747.53,434.42 749.64,440.91 744.11,436.90 738.59,440.91 740.70,434.42 735.17,430.41 742.00,430.41" fill="#ff0000"/><rect x="769.21" y="435.87" width="14.00" height="14.00" fill="#ff0000"/><polygon points="769.21,440.87 783.21,440.87 776.21,454.87" fill="#ff0000"/><rect x="809.64" y="446.91" width="14.00" height="14.00" fill="#ff0000"/><polygon points="809.64,455.91 823.64,455.91 816.64,469.91" fill="#ff0000"/><rect x="836.27" y="458.98" width="14.00" height="14.00" fill="#ff0000"/><circle cx="843.27" cy="471.98" r="7.00" fill="#ff0000"/><rect x="864.50" y="472.32" width="14.00" height="14.00" fill="#ff0000"/><polygon points="871.50,469.92 873.61,476.42 880.44,476.42 874.91,480.43 877.03,486.92 871.50,482.91 865.97,486.92 868.09,480.43 862.56,476.42 869.39,476.42" fill="#ff0000"/><polygon points="871.50,469.42 877.44,479.32 871.50,489.22 865.56,479.32" fill="#ff0000"/><rect x="896.59" y="490.95" width="14.00" height="14.00" fill="#ff0000"/><polygon points="903.59,488.55 905.70,495.05 912.53,495.05 907.01,499.06 909.12,505.55 903.59,501.54 898.07,505.55 900.18,499.06 894.65,495.05 901.48,495.05" fill="#ff0000"/><polygon points="903.59,488.05 909.53,497.95 903.59,507.85 897.65,497.95" fill="#ff0000"/><rect x="919.36" y="504.83" width="14.00" height="14.00" fill="#ff0000"/><polygon points="926.36,502.43 928.47,508.92 935.30,508.92 929.78,512.94 931.89,519.43 926.36,515.42 920.84,519.43 922.95,512.94 917.42,508.92 924.25,508.92" fill="#ff0000"/><polygon points="926.36,501.93 932.30,511.83 926.36,521.73 920.42,511.83" fill="#ff0000"/><rect x="937.02" y="517.95" width="14.00" height="14.00" fill="#ff0000"/><polygon points="944.02,515.55 946.13,522.05 952.96,522.05 947.44,526.06 949.55,532.55 944.02,528.54 938.50,532.55 940.61,526.06 935.08,522.05 941.91,522.05" fill="#ff0000"/><polygon points="944.02,515.05 949.96,524.95 944.02,534.85 938.08,524.95" fill="#ff0000"/><rect x="951.46" y="529.56" width="14.00" height="14.00" fill="#ff0000"/><polygon points="958.46,527.16 960.57,533.66 967.40,533.66 961.87,537.67 963.98,544.16 958.46,540.15 952.93,544.16 955.04,537.67 949.52,533.66 956.34,533.66" fill="#ff0000"/><polygon points="958.46,526.66 964.39,536.56 958.46,546.46 952.52,536.56" fill="#ff0000"/><rect x="963.66" y="538.74" width="14.00" height="14.00" fill="#ff0000"/><polygon points="970.66,536.34 972.77,542.84 979.60,542.84 974.07,546.85 976.18,553.34 970.66,549.33 965.13,553.34 967.24,546.85 961.72,542.84 968.55,542.84" fill="#ff0000"/><polygon points="970.66,535.84 976.60,545.74 970.66,555.64 964.72,545.74" fill="#ff0000"/><rect x="974.23" y="547.38" width="14.00" height="14.00" fill="#ff0000"/><polygon points="981.23,544.98 983.34,551.48 990.17,551.48 984.64,555.49 986.75,561.98 981.23,557.97 975.70,561.98 977.81,555.49 972.29,551.48 979.12,551.48" fill="#ff0000"/><polygon points="981.23,544.48 987.17,554.38 981.23,564.28 975.29,554.38" fill="#ff0000"/>
<polygon points="142.50,222.06 148.44,231.96 142.50,241.85 136.56,231.96" fill="#bfbf00"/><polygon points="197.36,224.38 203.30,234.28 197.36,244.18 191.42,234.28" fill="#bfbf00"/><polygon points="229.46,220.81 235.39,230.71 229.46,240.61 223.52,230.71" fill="#bfbf00"/><polygon points="269.89,223.26 275.83,233.16 269.89,243.06 263.95,233.16" fill="#bfbf00"/><polygon points="296.52,229.62 302.46,239.52 296.52,249.42 290.58,239.52" fill="#bfbf00"/><polygon points="324.75,223.40 330.69,233.30 324.75,243.20 318.81,233.30" fill="#bfbf00"/><polygon points="379.61,234.55 385.55,244.45 379.61,254.35 373.67,244.45" fill="#bfbf00"/><polygon points="411.71,231.68 417.64,241.57 411.71,251.47 405.77,241.57" fill="#bfbf00"/><polygon points="452.14,230.69 458.08,240.59 452.14,250.49 446.20,240.59" fill="#bfbf00"/><polygon points="478.77,231.24 484.71,241.14 478.77,251.04 472.83,241.14" fill="#bfbf00"/><polygon points="507.00,236.39 512.94,246.29 507.00,256.19 501.06,246.29" fill="#bfbf00"/><polygon points="561.86,242.76 567.80,252.66 561.86,262.56 555.92,252.66" fill="#bfbf00"/><polygon points="593.96,235.20 599.89,245.10 593.96,255.00 588.02,245.10" fill="#bfbf00"/><polygon points="634.39,247.22 640.33,257.12 634.39,267.02 628.45,257.12" fill="#bfbf00"/><polygon points="661.02,256.38 666.96,266.28 661.02,276.18 655.08,266.28" fill="#bfbf00"/><polygon points="689.25,267.41 695.19,277.31 689.25,287.21 683.31,277.31" fill="#bfbf00"/><polygon points="744.11,283.32 750.05,293.22 744.11,303.12 738.17,293.22" fill="#bfbf00"/><polygon points="776.21,307.92 782.14,317.82 776.21,327.72 770.27,317.82" fill="#bfbf00"/><polygon points="816.64,331.84 822.58,341.74 816.64,351.64 810.70,341.74" fill="#bfbf00"/><polygon points="843.27,345.78 849.21,355.68 843.27,365.57 837.33,355.68" fill="#bfbf00"/><polygon points="871.50,372.22 877.44,382.12 871.50,392.02 865.56,382.12" fill="#bfbf00"/><polygon points="903.59,414.88 909.53,424.78 903.59,434.68 897.65,424.78" fill="#bfbf00"/><polygon points="926.36,447.28 932.30,457.18 926.36,467.08 920.42,457.18" fill="#bfbf00"/><polygon points="944.02,473.20 949.96,483.10 944.02,493.00 938.08,483.10" fill="#bfbf00"/><polygon points="958.46,496.15 964.39,506.05 958.46,515.95 952.52,506.05" fill="#bfbf00"/><polygon points="970.66,513.27 976.60,523.17 970.66,533.07 964.72,523.17" fill="#bfbf00"/><polygon points="981.23,529.90 987.17,539.80 981.23,549.70 975.29,539.80" fill="#bfbf00"/>
<rect x="135.50" y="304.62" width="14.00" height="14.00" fill="#008000"/><polygon points="142.50,303.22 144.61,309.72 151.44,309.72 145.91,313.73 148.03,320.23 142.50,316.21 136.97,320.23 139.09,313.73 133.56,309.72 140.39,309.72" fill="#008000"/><rect x="190.36" y="304.38" width="14.00" height="14.00" fill="#008000"/><polygon points="190.36,309.88 204.36,309.88 197.36,323.88" fill="#008000"/><polygon points="229.46,300.76 231.57,307.25 238.40,307.25 232.87,311.27 234.98,317.76 229.46,313.75 223.93,317.76 226.04,311.27 220.52,307.25 227.34,307.25" fill="#008000"/><rect x="222.46" y="307.76" width="14.00" height="14.00" fill="#008000"/><rect x="262.89" y="305.56" width="14.00" height="14.00" fill="#008000"/><circle cx="269.89" cy="317.46" r="7.00" fill="#008000"/><polygon points="289.52,305.23 303.52,305.23 296.52,319.23" fill="#008000"/><circle cx="296.52" cy="317.23" r="7.00" fill="#008000"/><polygon points="296.52,302.63 298.63,309.12 305.46,309.12 299.93,313.14 302.04,319.63 296.52,315.62 290.99,319.63 293.10,313.14 287.58,309.12 294.41,309.12" fill="#008000"/><circle cx="324.75" cy="312.21" r="7.00" fill="#008000"/><polygon points="317.75,311.51 331.75,311.51 324.75,325.51" fill="#008000"/><polygon points="379.61,302.90 381.72,309.39 388.55,309.39 383.03,313.40 385.14,319.90 379.61,315.89 374.09,319.90 376.20,313.40 370.67,309.39 377.50,309.39" fill="#008000"/><polygon points="372.61,326.30 386.61,326.30 379.61,312.30" fill="#008000"/><polygon points="404.71,307.24 418.71,307.24 411.71,321.24" fill="#008000"/><rect x="404.71" y="311.24" width="14.00" height="14.00" fill="#008000"/><polygon points="459.14,311.70 459.14,325.70 445.14,318.70" fill="#008000"/><polygon points="445.14,312.70 459.14,312.70 452.14,326.70" fill="#008000"/><polygon points="471.77,320.98 485.77,320.98 478.77,306.98" fill="#008000"/><rect x="471.77" y="317.48" width="14.00" height="14.00" fill="#008000"/><polygon points="471.77,314.48 471.77,328.48 485.77,321.48" fill="#008000"/><rect x="500.00" y="311.48" width="14.00" height="14.00" fill="#008000"/><polygon points="500.00,321.48 514.00,321.48 507.00,335.48" fill="#008000"/><rect x="554.86" y="316.50" width="14.00" height="14.00" fill="#008000"/><circle cx="561.86" cy="328.50" r="7.00" fill="#008000"/><polygon points="586.96,323.52 600.96,323.52 593.96,337.52" fill="#008000"/><polygon points="593.96,325.12 596.07,331.62 602.90,331.62 597.37,335.63 599.48,342.13 593.96,338.11 588.43,342.13 590.54,335.63 585.02,331.62 591.84,331.62" fill="#008000"/><polygon points="627.39,322.30 641.39,322.30 634.39,336.30" fill="#008000"/><circle cx="634.39" cy="338.30" r="7.00" fill="#008000"/><rect x="654.02" y="337.05" width="14.00" height="14.00" fill="#008000"/><polygon points="661.02,333.65 663.13,340.15 669.96,340.15 664.43,344.16 666.54,350.65 661.02,346.64 655.49,350.65 657.60,344.16 652.08,340.15 658.91,340.15" fill="#008000"/><rect x="682.25" y="339.69" width="14.00" height="14.00" fill="#008000"/><polygon points="682.25,348.69 696.25,348.69 689.25,362.69" fill="#008000"/><polygon points="751.11,354.98 751.11,368.98 737.11,361.98" fill="#008000"/><rect x="737.11" y="358.98" width="14.00" height="14.00" fill="#008000"/><polygon points="769.21,365.07 783.21,365.07 776.21,379.07" fill="#008000"/><polygon points="776.21,368.67 778.32,375.17 785.15,375.17 779.62,379.18 781.73,385.67 776.21,381.66 770.68,385.67 772.79,379.18 767.27,375.17 774.09,375.17" fill="#008000"/><rect x="769.21" y="371.07" width="14.00" height="14.00" fill="#008000"/><polygon points="809.64,382.08 823.64,382.08 816.64,396.08" fill="#008000"/><polygon points="809.64,391.08 823.64,391.08 816.64,405.08" fill="#008000"/><rect x="809.64" y="388.08" width="14.00" height="14.00" fill="#008000"/><polygon points="836.27,414.01 850.27,414.01 843.27,400.01" fill="#008000"/><circle cx="843.27" cy="414.01" r="7.00" fill="#008000"/><rect x="836.27" y="404.01" width="14.00" height="14.00" fill="#008000"/><rect x="864.50" y="422.10" width="14.00" height="14.00" fill="#008000"/><polygon points="871.50,419.70 873.61,426.20 880.44,426.20 874.91,430.21 877.03,436.70 871.50,432.69 865.97,436.70 868.09,430.21 862.56,426.20 869.39,426.20" fill="#008000"/><polygon points="871.50,419.20 877.44,429.10 871.50,439.00 865.56,429.10" fill="#008000"/><rect x="896.59" y="450.99" width="14.00" height="14.00" fill="#008000"/><polygon points="903.59,448.59 905.70,455.09 912.53,455.09 907.01,459.10 909.12,465.59 903.59,461.58 898.07,465.59 900.18,459.10 894.65,455.09 901.48,455.09" fill="#008000"/><polygon points="903.59,448.09 909.53,457.99 903.59,467.89 897.65,457.99" fill="#008000"/><rect x="919.36" y="475.29" width="14.00" height="14.00" fill="#008000"/><polygon points="926.36,472.89 928.47,479.39 935.30,479.39 929.78,483.40 931.89,489.89 926.36,485.88 920.84,489.89 922.95,483.40 917.42,479.39 924.25,479.39" fill="#008000"/><polygon points="926.36,472.39 932.30,482.29 926.36,492.19 920.42,482.29" fill="#008000"/><rect x="937.02" y="492.84" width="14.00" height="14.00" fill="#008000"/><polygon points="944.02,490.44 946.13,496.94 952.96,496.94 947.44,500.95 949.55,507.44 944.02,503.43 938.50,507.44 940.61,500.95 935.08,496.94 941.91,496.94" fill="#008000"/><polygon points="944.02,489.94 949.96,499.84 944.02,509.74 938.08,499.84" fill="#008000"/><rect x="951.46" y="509.04" width="14.00" height="14.00" fill="#008000"/><polygon points="958.46,506.64 960.57,513.14 967.40,513.14 961.87,517.15 963.98,523.64 958.46,519.63 952.93,523.64 955.04,517.15 949.52,513.14 956.34,513.14" fill="#008000"/><polygon points="958.46,506.14 964.39,516.04 958.46,525.94 952.52,516.04" fill="#008000"/><rect x="963.66" y="523.62" width="14.00" height="14.00" fill="#008000"/><polygon points="970.66,521.22 972.77,527.72 979.60,527.72 974.07,531.73 976.18,538.22 970.66,534.21 965.13,538.22 967.24,531.73 961.72,527.72 968.55,527.72" fill="#008000"/><polygon points="970.66,520.72 976.60,530.62 970.66,540.52 964.72,530.62" fill="#008000"/><rect x="974.23" y="535.50" width="14.00" height="14.00" fill="#008000"/><polygon points="981.23,533.10 983.34,539.60 990.17,539.60 984.64,543.61 986.75,550.10 981.23,546.09 975.70,550.10 977.81,543.61 972.29,539.60 979.12,539.60" fill="#008000"/><polygon points="981.23,532.60 987.17,542.50 981.23,552.40 975.29,542.50" fill="#008000"/>
<polyline points="142.50,591.10 147.83,591.10 153.17,591.10 158.50,591.10 163.83,591.10 169.17,591.10 174.50,591.10 179.84,591.10 185.17,591.10 190.50,591.10 195.84,591.10 197.36,591.10 201.17,591.10 206.50,591.10 211.84,591.10 217.17,591.10 222.50,591.10 227.84,591.10 229.46,591.10 233.17,591.10 238.51,591.10 243.84,591.10 249.17,591.10 254.51,591.10 259.84,591.10 265.17,591.10 269.89,591.10 270.51,591.10 275.84,591.10 281.17,591.10 286.51,591.10 291.84,591.10 296.52,591.10 297.18,591.10 302.51,591.10 307.84,591.10 313.18,591.10 318.51,591.10 323.84,591.10 324.75,591.10 329.18,591.10 334.51,591.10 339.84,591.10 345.18,591.10 350.51,591.10 355.85,591.10 361.18,591.10 366.51,591.10 371.85,591.10 377.18,591.10 379.61,591.10 382.51,591.10 387.85,591.10 393.18,591.10 398.51,591.10 403.85,591.10 409.18,591.10 411.71,591.10 414.52,591.10 419.85,591.10 425.18,591.10 430.52,591.10 435.85,591.10 441.18,591.10 446.52,591.10 451.85,591.10 452.14,591.10 457.18,591.10 462.52,591.10 467.85,591.10 473.19,591.10 478.52,591.10 478.77,591.10 483.85,591.10 489.19,591.10 494.52,591.10 499.85,591.10 505.19,591.10 507.00,591.10 510.52,591.10 515.85,591.10 521.19,591.10 526.52,591.10 531.86,591.10 537.19,591.10 542.52,591.10 547.86,591.10 553.19,591.10 558.52,591.10 561.86,591.10 563.86,591.10 569.19,591.10 574.52,591.10 579.86,591.10 585.19,591.10 590.53,591.10 593.96,591.10 595.86,591.10 601.19,591.10 606.53,591.10 611.86,591.10 617.19,591.10 622.53,591.10 627.86,591.10 633.19,591.10 634.39,591.10 638.53,591.10 643.86,591.10 649.20,591.10 654.53,591.10 659.86,591.10 661.02,591.10 665.20,591.10 670.53,591.10 675.86,591.10 681.20,591.10 686.53,591.10 689.25,591.10 691.86,591.10 697.20,591.10 702.53,591.10 707.87,591.10 713.20,591.10 718.53,591.10 723.87,591.10 729.20,591.10 734.53,591.10 739.87,591.10 744.11,591.10 745.20,591.10 750.53,591.10 755.87,591.10 761.20,591.10 766.54,591.10 771.87,591.10 776.21,591.10 777.20,591.10 782.54,591.10 787.87,591.10 793.20,591.10 798.54,591.10 803.87,591.10 809.20,591.10 814.54,591.10 816.64,591.10 819.87,591.10 825.21,591.10 830.54,591.10 835.87,591.10 841.21,591.10 843.27,591.10 846.54,591.10 851.87,591.10 857.21,591.10 862.54,591.10 867.87,591.10 871.50,591.10 873.21,591.10 878.54,591.10 883.88,591.10 889.21,591.10 894.54,591.10 899.88,591.10 903.59,591.10 905.21,591.10 910.54,591.10 915.88,591.10 921.21,591.10 926.36,591.10 926.54,591.10 931.88,591.10 937.21,591.10 942.55,591.10 944.02,591.10 947.88,591.10 953.21,591.10 958.46,591.10 958.55,591.10 963.88,591.10 969.21,591.10 970.66,591.10 974.55,591.10 979.88,591.10 981.23,591.10 985.21,591.10 990.55,591.10" fill="none" stroke="#bf00bf" stroke-width="5.4" stroke-linejoin="round"/>
<polyline points="142.50,486.61 147.83,486.61 153.17,486.61 158.50,486.61 163.83,486.61 169.17,486.61 174.50,486.61 179.84,486.61 185.17,486.61 190.50,486.61 195.84,486.61 197.36,486.61 201.17,486.61 206.50,486.62 211.84,486.63 217.17,486.64 222.50,486.65 227.84,486.66 229.46,486.66 233.17,486.67 238.51,486.68 243.84,486.68 249.17,486.69 254.51,486.69 259.84,486.70 265.17,486.71 269.89,486.72 270.51,486.72 275.84,486.73 281.17,486.75 286.51,486.77 291.84,486.78 296.52,486.80 297.18,486.80 302.51,486.82 307.84,486.83 313.18,486.85 318.51,486.86 323.84,486.88 324.75,486.88 329.18,486.89 334.51,486.90 339.84,486.92 345.18,486.93 350.51,486.94 355.85,486.95 361.18,486.96 366.51,486.98 371.85,486.99 377.18,487.01 379.61,487.02 382.51,487.02 387.85,487.05 393.18,487.07 398.51,487.09 403.85,487.12 409.18,487.14 411.71,487.15 414.52,487.16 419.85,487.18 425.18,487.20 430.52,487.21 435.85,487.23 441.18,487.25 446.52,487.28 451.85,487.31 452.14,487.31 457.18,487.36 462.52,487.43 467.85,487.51 473.19,487.60 478.52,487.69 478.77,487.69 483.85,487.76 489.19,487.83 494.52,487.90 499.85,487.97 505.19,488.06 507.00,488.10 510.52,488.17 515.85,488.29 521.19,488.42 526.52,488.57 531.86,488.74 537.19,488.91 542.52,489.10 547.86,489.30 553.19,489.50 558.52,489.71 561.86,489.85 563.86,489.93 569.19,490.18 574.52,490.45 579.86,490.75 585.19,491.06 590.53,491.39 593.96,491.61 595.86,491.73 601.19,492.08 606.53,492.46 611.86,492.86 617.19,493.27 622.53,493.70 627.86,494.14 633.19,494.61 634.39,494.71 638.53,495.09 643.86,495.61 649.20,496.17 654.53,496.73 659.86,497.29 661.02,497.41 665.20,497.84 670.53,498.39 675.86,498.94 681.20,499.50 686.53,500.08 689.25,500.38 691.86,500.67 697.20,501.27 702.53,501.87 707.87,502.47 713.20,503.08 718.53,503.72 723.87,504.37 729.20,505.05 734.53,505.76 739.87,506.51 744.11,507.13 745.20,507.30 750.53,508.16 755.87,509.10 761.20,510.10 766.54,511.14 771.87,512.20 776.21,513.07 777.20,513.27 782.54,514.37 787.87,515.51 793.20,516.68 798.54,517.86 803.87,519.06 809.20,520.24 814.54,521.40 816.64,521.85 819.87,522.53 825.21,523.64 830.54,524.75 835.87,525.85 841.21,526.95 843.27,527.38 846.54,528.05 851.87,529.12 857.21,530.18 862.54,531.26 867.87,532.40 871.50,533.21 873.21,533.61 878.54,534.87 883.88,536.18 889.21,537.55 894.54,539.00 899.88,540.55 903.59,541.69 905.21,542.21 910.54,544.13 915.88,546.23 921.21,548.36 926.36,550.33 926.54,550.40 931.88,552.29 937.21,554.14 942.55,556.01 944.02,556.54 947.88,557.93 953.21,559.88 958.46,561.94 958.55,561.98 963.88,564.38 969.21,566.93 970.66,567.61 974.55,569.38 979.88,571.82 981.23,572.47 985.21,574.48 990.55,577.33" fill="none" stroke="#0000ff" stroke-width="5.4" stroke-linejoin="round"/>
<polyline points="142.50,166.50 147.83,166.51 153.17,166.52 158.50,166.53 163.83,166.54 169.17,166.55 174.50,166.56 179.84,166.57 185.17,166.58 190.50,166.59 195.84,166.60 197.36,166.61 201.17,166.61 206.50,166.62 211.84,166.63 217.17,166.64 222.50,166.65 227.84,166.66 229.46,166.66 233.17,166.67 238.51,166.68 243.84,166.69 249.17,166.71 254.51,166.72 259.84,166.74 265.17,166.75 269.89,166.77 270.51,166.77 275.84,166.79 281.17,166.80 286.51,166.82 291.84,166.83 296.52,166.85 297.18,166.85 302.51,166.87 307.84,166.88 313.18,166.89 318.51,166.91 323.84,166.93 324.75,166.93 329.18,166.95 334.51,166.99 339.84,167.04 345.18,167.09 350.51,167.15 355.85,167.21 361.18,167.28 366.51,167.35 371.85,167.42 377.18,167.49 379.61,167.52 382.51,167.56 387.85,167.64 393.18,167.72 398.51,167.81 403.85,167.89 409.18,167.97 411.71,168.01 414.52,168.05 419.85,168.12 425.18,168.18 430.52,168.24 435.85,168.30 441.18,168.37 446.52,168.45 451.85,168.54 452.14,168.55 457.18,168.67 462.52,168.82 467.85,168.99 473.19,169.18 478.52,169.35 478.77,169.36 483.85,169.52 489.19,169.68 494.52,169.84 499.85,170.01 505.19,170.21 507.00,170.28 510.52,170.42 515.85,170.67 521.19,170.93 526.52,171.21 531.86,171.51 537.19,171.82 542.52,172.15 547.86,172.48 553.19,172.83 558.52,173.19 561.86,173.41 563.86,173.55 569.19,173.92 574.52,174.30 579.86,174.72 585.19,175.16 590.53,175.64 593.96,175.98 595.86,176.17 601.19,176.74 606.53,177.37 611.86,178.04 617.19,178.77 622.53,179.56 627.86,180.40 633.19,181.30 634.39,181.51 638.53,182.30 643.86,183.45 649.20,184.73 654.53,186.10 659.86,187.52 661.02,187.83 665.20,188.97 670.53,190.50 675.86,192.11 681.20,193.82 686.53,195.65 689.25,196.63 691.86,197.60 697.20,199.64 702.53,201.77 707.87,204.00 713.20,206.34 718.53,208.79 723.87,211.38 729.20,214.11 734.53,216.98 739.87,220.01 744.11,222.55 745.20,223.23 750.53,226.90 755.87,231.04 761.20,235.50 766.54,240.13 771.87,244.78 776.21,248.47 777.20,249.30 782.54,253.73 787.87,258.15 793.20,262.59 798.54,267.11 803.87,271.75 809.20,276.55 814.54,281.54 816.64,283.57 819.87,286.78 825.21,292.31 830.54,298.10 835.87,304.10 841.21,310.29 843.27,312.73 846.54,316.65 851.87,323.24 857.21,330.05 862.54,337.07 867.87,344.30 871.50,349.32 873.21,351.71 878.54,359.38 883.88,367.28 889.21,375.38 894.54,383.67 899.88,392.10 903.59,398.05 905.21,400.66 910.54,409.46 915.88,418.48 921.21,427.68 926.36,436.66 926.54,436.98 931.88,446.41 937.21,456.01 942.55,465.78 944.02,468.52 947.88,475.68 953.21,485.75 958.46,496.06 958.55,496.24 963.88,507.45 969.21,519.09 970.66,522.25 974.55,530.07 979.88,541.87 981.23,545.74 985.21,561.60 990.55,591.10" fill="none" stroke="#00bfbf" stroke-width="5.4" stroke-linejoin="round"/>
<polyline points="142.50,398.59 147.83,398.59 153.17,398.59 158.50,398.59 163.83,398.59 169.17,398.59 174.50,398.59 179.84,398.59 185.17,398.59 190.50,398.59 195.84,398.59 197.36,398.59 201.17,398.59 206.50,398.60 211.84,398.61 217.17,398.62 222.50,398.63 227.84,398.64 229.46,398.64 233.17,398.65 238.51,398.66 243.84,398.67 249.17,398.68 254.51,398.69 259.84,398.70 265.17,398.71 269.89,398.73 270.51,398.73 275.84,398.75 281.17,398.77 286.51,398.80 291.84,398.84 296.52,398.86 297.18,398.86 302.51,398.89 307.84,398.91 313.18,398.94 318.51,398.96 323.84,398.99 324.75,399.00 329.18,399.02 334.51,399.05 339.84,399.09 345.18,399.13 350.51,399.16 355.85,399.20 361.18,399.25 366.51,399.29 371.85,399.33 377.18,399.38 379.61,399.40 382.51,399.43 387.85,399.47 393.18,399.53 398.51,399.58 403.85,399.64 409.18,399.69 411.71,399.72 414.52,399.76 419.85,399.82 425.18,399.88 430.52,399.95 435.85,400.02 441.18,400.10 446.52,400.19 451.85,400.29 452.14,400.29 457.18,400.41 462.52,400.58 467.85,400.77 473.19,400.96 478.52,401.15 478.77,401.16 483.85,401.32 489.19,401.48 494.52,401.64 499.85,401.82 505.19,402.02 507.00,402.10 510.52,402.26 515.85,402.53 521.19,402.82 526.52,403.15 531.86,403.50 537.19,403.87 542.52,404.27 547.86,404.69 553.19,405.13 558.52,405.59 561.86,405.88 563.86,406.06 569.19,406.61 574.52,407.23 579.86,407.89 585.19,408.57 590.53,409.24 593.96,409.66 595.86,409.89 601.19,410.51 606.53,411.11 611.86,411.72 617.19,412.34 622.53,413.00 627.86,413.69 633.19,414.45 634.39,414.63 638.53,415.29 643.86,416.23 649.20,417.25 654.53,418.32 659.86,419.41 661.02,419.65 665.20,420.54 670.53,421.76 675.86,423.01 681.20,424.25 686.53,425.42 689.25,425.97 691.86,426.47 697.20,427.44 702.53,428.35 707.87,429.22 713.20,430.07 718.53,430.90 723.87,431.74 729.20,432.61 734.53,433.52 739.87,434.49 744.11,435.31 745.20,435.53 750.53,436.63 755.87,437.80 761.20,439.02 766.54,440.32 771.87,441.69 776.21,442.87 777.20,443.15 782.54,444.73 787.87,446.44 793.20,448.24 798.54,450.13 803.87,452.09 809.20,454.09 814.54,456.11 816.64,456.91 819.87,458.17 825.21,460.35 830.54,462.60 835.87,464.88 841.21,467.13 843.27,467.98 846.54,469.29 851.87,471.34 857.21,473.36 862.54,475.44 867.87,477.67 871.50,479.32 873.21,480.15 878.54,482.93 883.88,485.96 889.21,489.15 894.54,492.43 899.88,495.71 903.59,497.95 905.21,498.91 910.54,502.05 915.88,505.21 921.21,508.48 926.36,511.83 926.54,511.95 931.88,515.71 937.21,519.70 942.55,523.80 944.02,524.95 947.88,528.01 953.21,532.36 958.46,536.56 958.55,536.63 963.88,540.64 969.21,544.62 970.66,545.74 974.55,548.86 979.88,553.26 981.23,554.38 985.21,557.71 990.55,562.21" fill="none" stroke="#ff0000" stroke-width="5.4" stroke-linejoin="round"/>
<polyline points="142.50,236.46 147.83,236.46 153.17,236.46 158.50,236.46 163.83,236.46 169.17,236.47 174.50,236.47 179.84,236.47 185.17,236.47 190.50,236.48 195.84,236.48 197.36,236.48 201.17,236.48 206.50,236.49 211.84,236.49 217.17,236.50 222.50,236.50 227.84,236.51 229.46,236.51 233.17,236.51 238.51,236.52 243.84,236.53 249.17,236.53 254.51,236.54 259.84,236.55 265.17,236.56 269.89,236.56 270.51,236.56 275.84,236.57 281.17,236.58 286.51,236.59 291.84,236.61 296.52,236.62 297.18,236.62 302.51,236.63 307.84,236.64 313.18,236.66 318.51,236.67 323.84,236.69 324.75,236.70 329.18,236.72 334.51,236.77 339.84,236.82 345.18,236.89 350.51,236.97 355.85,237.05 361.18,237.14 366.51,237.23 371.85,237.32 377.18,237.41 379.61,237.45 382.51,237.50 387.85,237.59 393.18,237.69 398.51,237.79 403.85,237.90 409.18,238.02 411.71,238.07 414.52,238.14 419.85,238.27 425.18,238.41 430.52,238.57 435.85,238.73 441.18,238.90 446.52,239.08 451.85,239.28 452.14,239.29 457.18,239.51 462.52,239.77 467.85,240.06 473.19,240.35 478.52,240.63 478.77,240.64 483.85,240.88 489.19,241.11 494.52,241.34 499.85,241.59 505.19,241.88 507.00,241.99 510.52,242.23 515.85,242.65 521.19,243.14 526.52,243.69 531.86,244.27 537.19,244.87 542.52,245.49 547.86,246.11 553.19,246.73 558.52,247.31 561.86,247.66 563.86,247.86 569.19,248.37 574.52,248.87 579.86,249.37 585.19,249.90 590.53,250.48 593.96,250.90 595.86,251.14 601.19,251.88 606.53,252.68 611.86,253.55 617.19,254.48 622.53,255.48 627.86,256.54 633.19,257.66 634.39,257.92 638.53,258.88 643.86,260.27 649.20,261.80 654.53,263.42 659.86,265.11 661.02,265.48 665.20,266.89 670.53,268.83 675.86,270.87 681.20,272.95 686.53,275.00 689.25,276.01 691.86,276.95 697.20,278.81 702.53,280.59 707.87,282.33 713.20,284.06 718.53,285.82 723.87,287.65 729.20,289.56 734.53,291.61 739.87,293.82 744.11,295.72 745.20,296.23 750.53,299.03 755.87,302.19 761.20,305.58 766.54,309.09 771.87,312.58 776.21,315.32 777.20,315.94 782.54,319.24 787.87,322.57 793.20,325.91 798.54,329.25 803.87,332.59 809.20,335.92 814.54,339.24 816.64,340.54 819.87,342.50 825.21,345.60 830.54,348.69 835.87,351.91 841.21,355.41 843.27,356.88 846.54,359.31 851.87,363.56 857.21,368.14 862.54,373.07 867.87,378.34 871.50,382.12 873.21,383.98 878.54,390.29 883.88,397.19 889.21,404.51 894.54,412.04 899.88,419.60 903.59,424.78 905.21,427.01 910.54,434.48 915.88,442.07 921.21,449.74 926.36,457.18 926.54,457.44 931.88,465.15 937.21,472.91 942.55,480.85 944.02,483.10 947.88,489.18 953.21,497.85 958.46,506.05 958.55,506.18 963.88,513.69 969.21,521.06 970.66,523.17 974.55,529.37 979.88,537.92 981.23,539.80 985.21,544.84 990.55,550.60" fill="none" stroke="#bfbf00" stroke-width="5.4" stroke-linejoin="round"/>
<polyline points="142.50,313.62 147.83,313.62 153.17,313.62 158.50,313.63 163.83,313.63 169.17,313.64 174.50,313.64 179.84,313.65 185.17,313.66 190.50,313.66 195.84,313.67 197.36,313.68 201.17,313.68 206.50,313.69 211.84,313.71 217.17,313.72 222.50,313.74 227.84,313.75 229.46,313.76 233.17,313.77 238.51,313.78 243.84,313.79 249.17,313.80 254.51,313.82 259.84,313.83 265.17,313.85 269.89,313.86 270.51,313.87 275.84,313.89 281.17,313.92 286.51,313.96 291.84,314.00 296.52,314.03 297.18,314.03 302.51,314.06 307.84,314.09 313.18,314.13 318.51,314.16 323.84,314.21 324.75,314.21 329.18,314.26 334.51,314.33 339.84,314.42 345.18,314.51 350.51,314.62 355.85,314.73 361.18,314.86 366.51,314.98 371.85,315.11 377.18,315.24 379.61,315.30 382.51,315.37 387.85,315.51 393.18,315.66 398.51,315.82 403.85,315.99 409.18,316.16 411.71,316.24 414.52,316.33 419.85,316.50 425.18,316.67 430.52,316.84 435.85,317.03 441.18,317.23 446.52,317.44 451.85,317.68 452.14,317.70 457.18,317.97 462.52,318.31 467.85,318.69 473.19,319.08 478.52,319.46 478.77,319.48 483.85,319.83 489.19,320.19 494.52,320.56 499.85,320.94 505.19,321.34 507.00,321.48 510.52,321.76 515.85,322.18 521.19,322.60 526.52,323.04 531.86,323.49 537.19,323.96 542.52,324.46 547.86,324.98 553.19,325.53 558.52,326.11 561.86,326.50 563.86,326.75 569.19,327.49 574.52,328.32 579.86,329.21 585.19,330.12 590.53,330.99 593.96,331.52 595.86,331.80 601.19,332.54 606.53,333.24 611.86,333.93 617.19,334.62 622.53,335.36 627.86,336.17 633.19,337.08 634.39,337.30 638.53,338.15 643.86,339.42 649.20,340.83 654.53,342.29 659.86,343.74 661.02,344.05 665.20,345.16 670.53,346.62 675.86,348.09 681.20,349.55 686.53,350.98 689.25,351.69 691.86,352.35 697.20,353.63 702.53,354.85 707.87,356.03 713.20,357.20 718.53,358.38 723.87,359.59 729.20,360.87 734.53,362.23 739.87,363.70 744.11,364.98 745.20,365.32 750.53,367.19 755.87,369.30 761.20,371.56 766.54,373.90 771.87,376.23 776.21,378.07 777.20,378.48 782.54,380.64 787.87,382.75 793.20,384.85 798.54,387.00 803.87,389.22 809.20,391.55 814.54,394.05 816.64,395.08 819.87,396.76 825.21,399.78 830.54,403.01 835.87,406.36 841.21,409.73 843.27,411.01 846.54,413.01 851.87,416.24 857.21,419.50 862.54,422.88 867.87,426.48 871.50,429.10 873.21,430.39 878.54,434.68 883.88,439.28 889.21,444.14 894.54,449.18 899.88,454.35 903.59,457.99 905.21,459.60 910.54,465.18 915.88,471.00 921.21,476.84 926.36,482.29 926.54,482.48 931.88,487.78 937.21,492.96 942.55,498.30 944.02,499.84 947.88,504.00 953.21,510.00 958.46,516.04 958.55,516.15 963.88,522.51 969.21,528.93 970.66,530.62 974.55,535.03 979.88,540.98 981.23,542.50 985.21,547.08 990.55,553.30" fill="none" stroke="#008000" stroke-width="5.4" stroke-linejoin="round"/>
</g>
<path d="M142.50,618.1v-7M142.50,2.3v7M197.36,618.1v-3.5M197.36,2.3v3.5M229.46,618.1v-3.5M229.46,2.3v3.5M252.23,618.1v-3.5M252.23,2.3v3.5M269.89,618.1v-3.5M269.89,2.3v3.5M284.32,618.1v-3.5M284.32,2.3v3.5M296.52,618.1v-3.5M296.52,2.3v3.5M307.09,618.1v-3.5M307.09,2.3v3.5M316.41,618.1v-3.5M316.41,2.3v3.5M324.75,618.1v-7M324.75,2.3v7M379.61,618.1v-3.5M379.61,2.3v3.5M411.71,618.1v-3.5M411.71,2.3v3.5M434.48,618.1v-3.5M434.48,2.3v3.5M452.14,618.1v-3.5M452.14,2.3v3.5M466.57,618.1v-3.5M466.57,2.3v3.5M478.77,618.1v-3.5M478.77,2.3v3.5M489.34,618.1v-3.5M489.34,2.3v3.5M498.66,618.1v-3.5M498.66,2.3v3.5M507.00,618.1v-7M507.00,2.3v7M561.86,618.1v-3.5M561.86,2.3v3.5M593.96,618.1v-3.5M593.96,2.3v3.5M616.73,618.1v-3.5M616.73,2.3v3.5M634.39,618.1v-3.5M634.39,2.3v3.5M648.82,618.1v-3.5M648.82,2.3v3.5M661.02,618.1v-3.5M661.02,2.3v3.5M671.59,618.1v-3.5M671.59,2.3v3.5M680.91,618.1v-3.5M680.91,2.3v3.5M689.25,618.1v-7M689.25,2.3v7M744.11,618.1v-3.5M744.11,2.3v3.5M776.21,618.1v-3.5M776.21,2.3v3.5M798.98,618.1v-3.5M798.98,2.3v3.5M816.64,618.1v-3.5M816.64,2.3v3.5M831.07,618.1v-3.5M831.07,2.3v3.5M843.27,618.1v-3.5M843.27,2.3v3.5M853.84,618.1v-3.5M853.84,2.3v3.5M863.16,618.1v-3.5M863.16,2.3v3.5M871.50,618.1v-7M871.50,2.3v7M926.36,618.1v-3.5M926.36,2.3v3.5M958.46,618.1v-3.5M958.46,2.3v3.5M981.23,618.1v-3.5M981.23,2.3v3.5M124.84,618.1v-3.5M124.84,2.3v3.5M134.16,618.1v-3.5M134.16,2.3v3.5M124.6,591.10h7M990.5,591.10h-7M124.6,456.10h7M990.5,456.10h-7M124.6,321.10h7M990.5,321.10h-7M124.6,186.10h7M990.5,186.10h-7M124.6,51.10h7M990.5,51.10h-7" stroke="#000" stroke-width="1" fill="none"/>
<rect x="124.6" y="2.3" width="865.9" height="615.8000000000001" fill="none" stroke="#000" stroke-width="5.1"/>
<rect x="139.8" y="20.2" width="835.9000000000001" height="111.39999999999999" rx="5" ry="5" fill="#fff" fill-opacity="0.82" stroke="#000" stroke-width="1.45"/>
<line x1="150.7" y1="47.8" x2="190.89999999999998" y2="47.8" stroke="#00bfbf" stroke-width="5.4"/>
<text x="215.6" y="60.699999999999996" font-family="DejaVu Sans, Liberation Sans, sans-serif" font-size="35.3">n=6</text>
<line x1="150.7" y1="98.8" x2="190.89999999999998" y2="98.8" stroke="#bfbf00" stroke-width="5.4"/>
<text x="215.6" y="111.7" font-family="DejaVu Sans, Liberation Sans, sans-serif" font-size="35.3">n=5</text>
<line x1="356.3" y1="47.8" x2="396.5" y2="47.8" stroke="#008000" stroke-width="5.4"/>
<text x="421.20000000000005" y="60.699999999999996" font-family="DejaVu Sans, Liberation Sans, sans-serif" font-size="35.3">n=4</text>
<line x1="356.3" y1="98.8" x2="396.5" y2="98.8" stroke="#ff0000" stroke-width="5.4"/>
<text x="421.20000000000005" y="111.7" font-family="DejaVu Sans, Liberation Sans, sans-serif" font-size="35.3">n=3</text>
<line x1="561.2" y1="47.8" x2="601.4000000000001" y2="47.8" stroke="#0000ff" stroke-width="5.4"/>
<text x="626.1" y="60.699999999999996" font-family="DejaVu Sans, Liberation Sans, sans-serif" font-size="35.3">n=2</text>
<line x1="561.2" y1="98.8" x2="601.4000000000001" y2="98.8" stroke="#bf00bf" stroke-width="5.4"/>
<text x="626.1" y="111.7" font-family="DejaVu Sans, Liberation Sans, sans-serif" font-size="35.3">n=1</text>
<line x1="768.5" y1="47.8" x2="808.7" y2="47.8" stroke="#000" stroke-width="5.4" stroke-dasharray="10.45 10.45"/>
<text x="831.3" y="60.699999999999996" font-family="DejaVu Sans, Liberation Sans, sans-serif" font-size="35.3">eff.sph.</text>
<circle cx="786.7" cy="99.3" r="7.2" fill="#000"/>
<text x="831.3" y="111.7" font-family="DejaVu Sans, Liberation Sans, sans-serif" font-size="35.3">sim</text>
<text x="117.9" y="601.20" text-anchor="end" font-family="DejaVu Sans, Liberation Sans, sans-serif" font-size="35">1.0</text>
<text x="117.9" y="466.20" text-anchor="end" font-family="DejaVu Sans, Liberation Sans, sans-serif" font-size="35">1.5</text>
<text x="117.9" y="331.20" text-anchor="end" font-family="DejaVu Sans, Liberation Sans, sans-serif" font-size="35">2.0</text>
<text x="117.9" y="196.20" text-anchor="end" font-family="DejaVu Sans, Liberation Sans, sans-serif" font-size="35">2.5</text>
<text x="117.9" y="61.20" text-anchor="end" font-family="DejaVu Sans, Liberation Sans, sans-serif" font-size="35">3.0</text>
<text x="104.70" y="661.9" font-family="DejaVu Sans, Liberation Sans, sans-serif" font-size="35.3">10<tspan dx="1.2" dy="-16.0" font-size="24.71">-5</tspan></text>
<text x="286.95" y="661.9" font-family="DejaVu Sans, Liberation Sans, sans-serif" font-size="35.3">10<tspan dx="1.2" dy="-16.0" font-size="24.71">-4</tspan></text>
<text x="469.20" y="661.9" font-family="DejaVu Sans, Liberation Sans, sans-serif" font-size="35.3">10<tspan dx="1.2" dy="-16.0" font-size="24.71">-3</tspan></text>
<text x="651.45" y="661.9" font-family="DejaVu Sans, Liberation Sans, sans-serif" font-size="35.3">10<tspan dx="1.2" dy="-16.0" font-size="24.71">-2</tspan></text>
<text x="833.70" y="661.9" font-family="DejaVu Sans, Liberation Sans, sans-serif" font-size="35.3">10<tspan dx="1.2" dy="-16.0" font-size="24.71">-1</tspan></text>
<text transform="translate(542.5,716.8) scale(1.18,1)" font-family="Liberation Serif, DejaVu Serif, serif" font-style="italic" font-size="51">ϕ</text>
<text transform="translate(39.6,363.30) rotate(-90) scale(1.2,1)" font-family="Liberation Serif, DejaVu Serif, serif" font-style="italic" font-size="49">α</text>
<text transform="translate(39.6,325.90) rotate(-90) scale(0.9,1)" font-family="Liberation Serif, DejaVu Serif, serif" font-size="58">(</text>
<text transform="translate(39.6,308.90) rotate(-90) scale(1.18,1)" font-family="Liberation Serif, DejaVu Serif, serif" font-style="italic" font-size="51">ϕ</text>
<text transform="translate(39.6,277.90) rotate(-90) scale(0.9,1)" font-family="Liberation Serif, DejaVu Serif, serif" font-size="58">)</text>
</svg>
</body></html>
